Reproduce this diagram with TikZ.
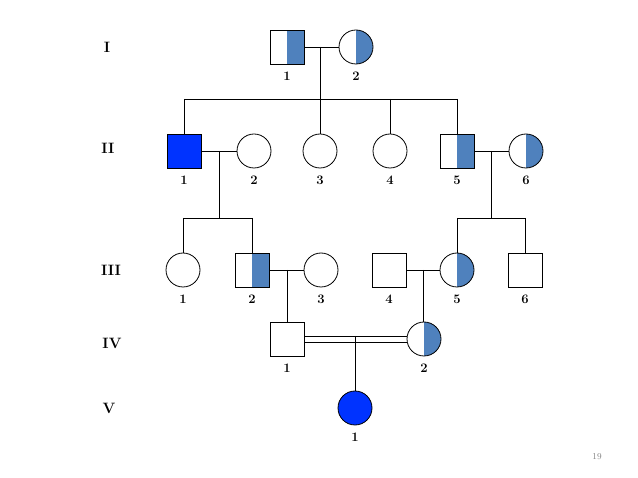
\documentclass[tikz,border=0pt]{standalone}
\begin{document}
\begin{tikzpicture}[x=1pt,y=-1pt,
  ind/.style={draw=black,line width=0.8pt,minimum size=34pt,inner sep=0pt,fill=white},
  m/.style={ind,rectangle},
  f/.style={ind,circle},
  half/.style={path picture={\fill[hb] (path picture bounding box.south) rectangle (path picture bounding box.north east);}},
  aff/.style={fill=ab},
  lab/.style={font=\bfseries\fontsize{13}{15}\selectfont},
  gen/.style={font=\bfseries\fontsize{15}{17}\selectfont},
  ln/.style={line width=0.8pt}]
\definecolor{hb}{HTML}{4F81BD}
\definecolor{ab}{HTML}{0033FF}
\useasboundingbox (0,0) rectangle (638,478);
% generation labels
\node[gen] (gI) at (107,47) {I};
\node[gen] (gII) at (108,148) {II};
\node[gen] (gIII) at (111,270) {III};
\node[gen] (gIV) at (112,343) {IV};
\node[gen] (gV) at (109,408) {V};
% Gen I
\node[m,half] (i1) at (287,47) {};
\node[f,half] (i2) at (356,47) {};
% Gen II
\node[m,aff] (ii1) at (184,151) {};
\node[f] (ii2) at (254,151) {};
\node[f] (ii3) at (320,151) {};
\node[f] (ii4) at (390,151) {};
\node[m,half] (ii5) at (457,151) {};
\node[f,half] (ii6) at (526,151) {};
% Gen III
\node[f] (iii1) at (183,270) {};
\node[m,half] (iii2) at (252,270) {};
\node[f] (iii3) at (321,270) {};
\node[m] (iii4) at (389,270) {};
\node[f,half] (iii5) at (457,270) {};
\node[m] (iii6) at (525,270) {};
% Gen IV
\node[m] (iv1) at (287,339) {};
\node[f,half] (iv2) at (424,339) {};
% Gen V
\node[f,aff] (v1) at (355,408) {};
% numbers
\foreach \n/\t in {i1/1,i2/2,ii1/1,ii2/2,ii3/3,ii4/4,ii5/5,ii6/6,iii1/1,iii2/2,iii3/3,iii4/4,iii5/5,iii6/6,iv1/1,iv2/2,v1/1}
  \node[lab] (l\n) at ([yshift=-12pt]\n.south) {\t};
\node[font=\small,text=gray] (pg) at (597,457) {19};
% coordinates
\coordinate (mI) at (320,47);
\coordinate (sI) at (320,99);
\coordinate (sIa) at (184,99);
\coordinate (sIb) at (457,99);
\coordinate (m1) at (219,151);
\coordinate (s1) at (219,218);
\coordinate (s1a) at (183,218);
\coordinate (s1b) at (252,218);
\coordinate (m2) at (491,151);
\coordinate (s2) at (491,218);
\coordinate (s2a) at (457,218);
\coordinate (s2b) at (525,218);
\coordinate (m3) at (287,270);
\coordinate (m4) at (423,270);
\coordinate (m5) at (355,339);
% connectors
\draw[ln] (i1) -- (i2);
\draw[ln] (mI) -- (sI);
\draw[ln] (sIa) -- (sIb);
\foreach \c in {ii1,ii3,ii4,ii5} \draw[ln] (sI -| \c) -- (\c);
\draw[ln] (ii1) -- (ii2);
\draw[ln] (m1) -- (s1);
\draw[ln] (s1a) -- (s1b);
\draw[ln] (s1a) -- (iii1); \draw[ln] (s1b) -- (iii2);
\draw[ln] (ii5) -- (ii6);
\draw[ln] (m2) -- (s2);
\draw[ln] (s2a) -- (s2b);
\draw[ln] (s2a) -- (iii5); \draw[ln] (s2b) -- (iii6);
\draw[ln] (iii2) -- (iii3);
\draw[ln] (m3) -- (iv1);
\draw[ln] (iii4) -- (iii5);
\draw[ln] (m4) -- (iv2.north -| m4);
\draw[ln] ([yshift=-3pt]iv1.east) -- ([yshift=-3pt]iv2.west);
\draw[ln] ([yshift=3pt]iv1.east) -- ([yshift=3pt]iv2.west);
\draw[ln] ([yshift=3pt]m5) -- (v1);
\end{tikzpicture}
\end{document}
